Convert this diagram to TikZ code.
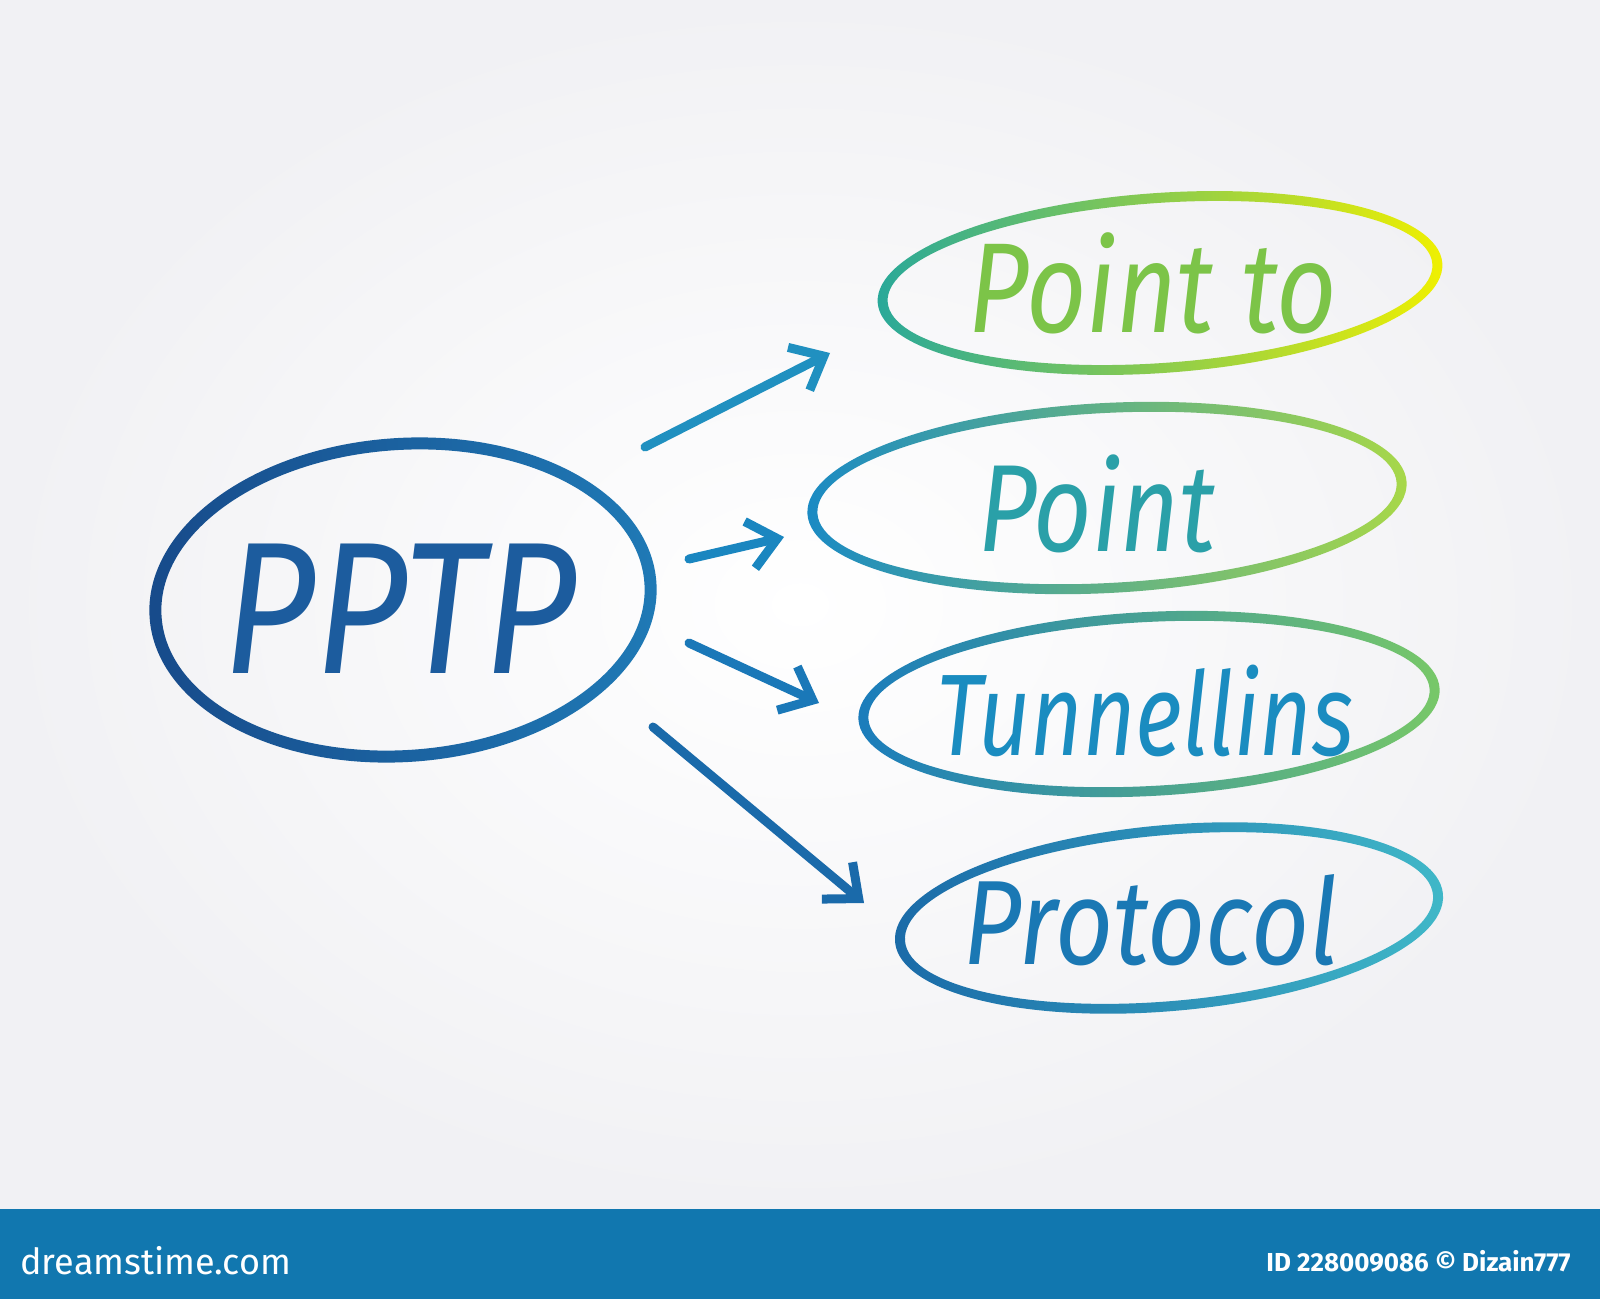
\documentclass[tikz,border=0pt]{standalone}
\usepackage{fontspec}
\setmainfont{Fira Sans}
\usetikzlibrary{arrows.meta}
\definecolor{bgedge}{RGB}{241,241,244}
\definecolor{barblue}{RGB}{17,119,175}
\definecolor{pptpA}{RGB}{23,74,138}
\definecolor{pptpB}{RGB}{31,122,182}
\definecolor{pptptext}{RGB}{28,92,158}
\definecolor{r1A}{RGB}{40,168,154}
\definecolor{r1M}{RGB}{128,200,80}
\definecolor{r1B}{RGB}{240,240,0}
\definecolor{r2A}{RGB}{26,138,196}
\definecolor{r2M}{RGB}{60,176,170}
\definecolor{r2B}{RGB}{168,216,72}
\definecolor{r3A}{RGB}{26,124,188}
\definecolor{r3M}{RGB}{40,158,180}
\definecolor{r3B}{RGB}{120,200,104}
\definecolor{r4A}{RGB}{26,106,168}
\definecolor{r4M}{RGB}{30,140,190}
\definecolor{r4B}{RGB}{64,184,200}
\definecolor{t1}{RGB}{124,196,72}
\definecolor{t2}{RGB}{42,160,168}
\definecolor{t3}{RGB}{26,140,192}
\definecolor{t4}{RGB}{26,120,180}
\definecolor{a1}{RGB}{32,144,192}
\definecolor{a2}{RGB}{26,134,192}
\definecolor{a3}{RGB}{26,120,184}
\definecolor{a4}{RGB}{26,106,170}
\tikzset{
  hand/.style={line width=4.5pt, line cap=round, line join=round,
    -{Straight Barb[length=14pt,width=24pt]}},
  lbl/.style={anchor=base, inner sep=0pt, font=\itshape},
  foot/.style={text=white, inner sep=0pt}
}
\begin{document}
\begin{tikzpicture}[x=0.5pt,y=-0.5pt]
\useasboundingbox (0,0) rectangle (1600,1299);
% background
\shade[inner color=white, outer color=bgedge] (0,0) rectangle (1600,1209);
\fill[barblue] (0,1209) rectangle (1600,1299);
% rings
\shade[left color=pptpA, right color=pptpB, even odd rule, rotate around={4:(403,600)}]
  (403,600) ellipse [x radius=254, y radius=162]
  (403,600) ellipse [x radius=242, y radius=150];
\shade[left color=r1A, middle color=r1M, right color=r1B, even odd rule, rotate around={4:(1160,283)}]
  (1160,283) ellipse [x radius=283, y radius=90]
  (1160,283) ellipse [x radius=273, y radius=80];
\shade[left color=r2A, middle color=r2M, right color=r2B, even odd rule, rotate around={3:(1107,498)}]
  (1107,498) ellipse [x radius=300, y radius=95]
  (1107,498) ellipse [x radius=290, y radius=85];
\shade[left color=r3A, middle color=r3M, right color=r3B, even odd rule, rotate around={3:(1149,704)}]
  (1149,704) ellipse [x radius=291, y radius=92]
  (1149,704) ellipse [x radius=281, y radius=82];
\shade[left color=r4A, middle color=r4M, right color=r4B, even odd rule, rotate around={5:(1169,918)}]
  (1169,918) ellipse [x radius=275, y radius=93]
  (1169,918) ellipse [x radius=265, y radius=83];
% texts
\node[lbl, text=pptptext, font=\itshape\fontsize{94}{94}\selectfont] (pptp) at (400,673) {\scalebox{0.85}[1]{PPTP}};
\node[lbl, text=t1, font=\itshape\fontsize{64}{64}\selectfont] (ptto) at (1153,333) {\scalebox{0.82}[1]{Point to}};
\node[lbl, text=t2, font=\itshape\fontsize{62}{62}\selectfont] (pt) at (1097,551) {\scalebox{0.82}[1]{Point}};
\node[lbl, text=t3, font=\itshape\fontsize{58}{58}\selectfont] (tun) at (1145,755) {\scalebox{0.78}[1]{Tunnellins}};
\node[lbl, text=t4, font=\itshape\fontsize{60}{60}\selectfont] (proto) at (1151,964) {\scalebox{0.84}[1]{Protocol}};
% arrows
\coordinate (s1) at (645,447); \coordinate (e1) at (830,353);
\coordinate (s2) at (689,559); \coordinate (e2) at (784,537);
\coordinate (s3) at (689,643); \coordinate (e3) at (819,703);
\coordinate (s4) at (653,727); \coordinate (e4) at (864,903);
\draw[hand, a1] (s1) -- (e1);
\draw[hand, a2] (s2) -- (e2);
\draw[hand, a3] (s3) -- (e3);
\draw[hand, a4] (s4) -- (e4);
% footer
\node[foot, anchor=west, font=\fontsize{18}{18}\selectfont] (site) at (20,1261) {dreamstime.com};
\node[foot, anchor=east, font=\bfseries\fontsize{13}{13}\selectfont] (cred) at (1571,1261) {ID 228009086 © Dizain777};
\end{tikzpicture}
\end{document}
